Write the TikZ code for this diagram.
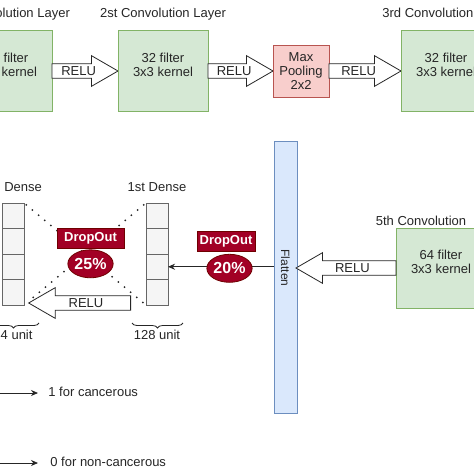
\documentclass[tikz,border=0pt]{standalone}
\usepackage{fontspec}
\setmainfont{Liberation Sans}
\usetikzlibrary{positioning,shapes.arrows,shapes.geometric,decorations.pathreplacing,arrows.meta,calc}

\definecolor{convfill}{HTML}{D5E8D4}
\definecolor{convline}{HTML}{82B366}
\definecolor{poolfill}{HTML}{F8CECC}
\definecolor{poolline}{HTML}{B85450}
\definecolor{flatfill}{HTML}{DAE8FC}
\definecolor{flatline}{HTML}{6C8EBF}
\definecolor{cellfill}{HTML}{F5F5F5}
\definecolor{cellline}{HTML}{666666}
\definecolor{dropfill}{HTML}{A20025}
\definecolor{dropline}{HTML}{6F0000}
\definecolor{ink}{HTML}{262626}

\tikzset{
  conv/.style={draw=convline, fill=convfill, minimum width=90pt, minimum height=81pt, align=center, text depth=12pt, outer sep=0pt},
  pool/.style={draw=poolline, fill=poolfill, minimum width=56pt, minimum height=52pt, align=center, inner sep=0pt, outer sep=0pt},
  flatbar/.style={draw=flatline, fill=flatfill, minimum width=23pt, minimum height=272pt},
  cell/.style={draw=cellline, fill=cellfill, minimum width=22pt, minimum height=25.5pt, outer sep=0pt, inner sep=0pt},
  relu/.style={single arrow, draw=ink, fill=white, single arrow head extend=8pt, single arrow tip angle=60, inner xsep=2pt, inner ysep=2.4pt, outer sep=0pt},
  droprect/.style={draw=dropline, fill=dropfill, text=white, font=\bfseries\fontsize{13}{15}\selectfont, minimum height=20pt, inner sep=0pt},
  dropval/.style={ellipse, draw=dropline, fill=dropfill, text=white, font=\bfseries\fontsize{16}{18}\selectfont, minimum width=44pt, minimum height=28pt, inner sep=0pt},
  lbl/.style={inner sep=0pt, text height=9.5pt, text depth=2.5pt},
  dots/.style={ink, line width=2pt, dash pattern=on 0pt off 8pt, line cap=round},
  flow/.style={ink, -{Stealth[length=7pt,width=6pt]}},
  unitbrace/.style={decorate, decoration={brace, amplitude=5pt, mirror}, draw=ink},
}

\begin{document}
\begin{tikzpicture}[x=1pt, y=-1pt, line width=0.8pt, text=ink, font=\fontsize{13}{14}\selectfont]

  \path[fill=white, use as bounding box] (0,0) rectangle (474,474);

  % Convolution row
  \node[conv]                                  (c1) at (7,71) {32 filter\\3x3 kernel}; %
  \node[relu, minimum height=66pt, right=0pt of c1] (r1) {RELU}; %
  \node[conv, right=0pt of r1]                 (c2) {32 filter\\3x3 kernel}; %
  \node[relu, minimum height=65pt, right=0pt of c2] (r2) {RELU}; %
  \node[pool, right=0pt of r2]                 (mp) {Max\\Pooling\\2x2}; %
  \node[relu, minimum height=72pt, right=0pt of mp] (r3) {RELU}; %
  \node[conv, right=0pt of r3]                 (c3) {32 filter\\3x3 kernel}; %

  % Layer names
  \node[lbl, above=10.5pt of c1] (l1) {1st Convolution Layer}; %
  \node[lbl, above=10.5pt of c2] (l2) {2st Convolution Layer}; %
  \node[lbl, above=10.5pt of c3] (l3) {3rd Convolution Layer}; %

  % Flatten and 5th convolution
  \node[flatbar] (flat) at (285.5,277) {}; %
  \node[conv, minimum height=80pt] (c5) at (441,268) {64 filter\\3x3 kernel}; %
  \node[relu, shape border rotate=180, minimum height=100pt, left=0pt of c5] (r5) {RELU}; %
  \node[lbl, above=0pt of c5, xshift=-20pt] (l5) {5th Convolution}; %
  \node[rotate=-90, font=\fontsize{12}{14}\selectfont] (flatl) at (flat.center |- c5) {Flatten}; %

  % 1st Dense
  \node[cell] (fd1) at (157,215.75) {}; %
  \node[cell, below=0pt of fd1] (fd2) {}; %
  \node[cell, below=0pt of fd2] (fd3) {}; %
  \node[cell, below=0pt of fd3] (fd4) {}; %
  \node[lbl, above=8.5pt of fd1] (lfd) {1st Dense}; %

  % 2nd Dense
  \node[cell] (ld1) at (13,215.75) {}; %
  \node[cell, below=0pt of ld1] (ld2) {}; %
  \node[cell, below=0pt of ld2] (ld3) {}; %
  \node[cell, below=0pt of ld3] (ld4) {}; %
  \node[lbl, above=8.5pt of ld1, xshift=-2.5pt] (lld) {2nd Dense}; %

  % units
  \draw[unitbrace] ($(fd4.south west)+(-14,18)$) -- ($(fd4.south east)+(15,18)$);
  \draw[unitbrace] ($(ld4.south west)+(-14,18)$) -- ($(ld4.south east)+(15,18)$);
  \node[lbl, below=25pt of fd4] (ufd) {128 unit}; %
  \node[lbl, below=25pt of ld4] (uld) {64 unit}; %

  % connections
  \draw[flow] (flat.west |- fd3.east) -- (fd3.east);
  \draw[dots, shorten <=3pt, shorten >=2pt] (ld1.north east) -- (fd4.south west);
  \draw[dots, shorten <=3pt, shorten >=6pt] (fd1.north west) -- (ld4.south east);

  % dropout
  \node[droprect, minimum width=67pt] (d25) at (90.5,238) {DropOut}; %
  \node[dropval, below=1pt of d25] (p25) {25\%}; %
  \node[droprect, minimum width=58pt] (d20) at (226,241.5) {DropOut}; %
  \node[dropval, below=2pt of d20, xshift=3.5pt] (p20) {20\%}; %

  \node[relu, shape border rotate=180, minimum height=102pt] (r6) at (86,303) {RELU}; %

  % output
  \coordinate (o1) at (-10,393);
  \coordinate (o0) at (-10,463);
  \node[lbl, anchor=west] (t1) at (48,393) {1 for cancerous}; %
  \node[lbl, anchor=west] (t0) at (50,463) {0 for non-cancerous}; %
  \draw[flow, shorten >=10pt] (o1) -- (t1);
  \draw[flow, shorten >=12pt] (o0) -- (t0);

\end{tikzpicture}
\end{document}
